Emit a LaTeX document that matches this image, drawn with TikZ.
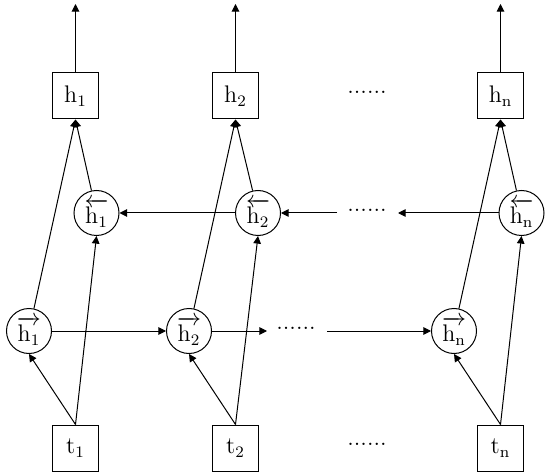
\documentclass[tikz,border=0pt]{standalone}
\usepackage{amsmath}
\usetikzlibrary{arrows.meta}

\begin{document}
\begin{tikzpicture}[x=0.5pt,y=-0.5pt,
	line width=0.5pt,
	>={Triangle[length=3.8pt,width=3.8pt]},
	every node/.style={font=\large},
	unit/.style={draw, minimum size=23pt, inner sep=0pt},
	cell/.style={draw, circle, minimum size=22.5pt, inner sep=0pt},
	gap/.style={inner sep=0pt}]
\useasboundingbox (0,0) rectangle (550,475);
% Outputs
\node[unit] (o1) at ( 75.5, 96) {$\mathrm{h}_1$};
\node[unit] (o2) at (235.5, 96) {$\mathrm{h}_2$};
\node[unit] (on) at (500.5, 96) {$\mathrm{h}_{\mathrm{n}}$};
\node[gap]  (od) at (367, 92) {......};
% Backward cells
\node[cell] (b1) at ( 96.5,213) {$\overleftarrow{\mathrm{h}_1}$};
\node[cell] (b2) at (258  ,213) {$\overleftarrow{\mathrm{h}_2}$};
\node[cell] (bn) at (521.5,213) {$\overleftarrow{\mathrm{h}_{\mathrm{n}}}$};
\node[gap]  (bd) at (367  ,210) {......};
% Forward cells
\node[cell] (f1) at ( 29,331) {$\overrightarrow{\mathrm{h}_1}$};
\node[cell] (f2) at (189,331) {$\overrightarrow{\mathrm{h}_2}$};
\node[cell] (fn) at (454,331) {$\overrightarrow{\mathrm{h}_{\mathrm{n}}}$};
\node[gap]  (fd) at (296,328) {......};
% Inputs
\node[unit] (t1) at ( 75.5,448) {$\mathrm{t}_1$};
\node[unit] (t2) at (235.5,448) {$\mathrm{t}_2$};
\node[unit] (tn) at (500.5,448) {$\mathrm{t}_{\mathrm{n}}$};
\node[gap]  (td) at (367,444) {......};
% Loose ends
\coordinate (u1) at ( 75.5,4);
\coordinate (u2) at (235.5,4);
\coordinate (un) at (500.5,4);
\coordinate (fa) at (267,331); % f2 out
\coordinate (fb) at (327,331); % fn in
\coordinate (ba) at (398,213); % bn out
\coordinate (bb) at (337,213); % b2 in
% Column 1
\draw[->] (o1.north) -- (u1);
\draw[->] (f1) -- (o1.south);
\draw[->] (b1) -- (o1.south);
\draw[->] (t1.north) -- (f1.south);
\draw[->] (t1.north) -- (b1.south);
% Column 2
\draw[->] (o2.north) -- (u2);
\draw[->] (f2) -- (o2.south);
\draw[->] (b2) -- (o2.south);
\draw[->] (t2.north) -- (f2.south);
\draw[->] (t2.north) -- (b2.south);
% Column n
\draw[->] (on.north) -- (un);
\draw[->] (fn) -- (on.south);
\draw[->] (bn) -- (on.south);
\draw[->] (tn.north) -- (fn.south);
\draw[->] (tn.north) -- (bn.south);
% Forward chain
\draw[->] (f1.east) -- (f2.west);
\draw[->] (f2.east) -- (fa);
\draw[->] (fb) -- (fn.west);
% Backward chain
\draw[->] (b2.west) -- (b1.east);
\draw[->] (bb) -- (b2.east);
\draw[->] (bn.west) -- (ba);
\end{tikzpicture}
\end{document}
